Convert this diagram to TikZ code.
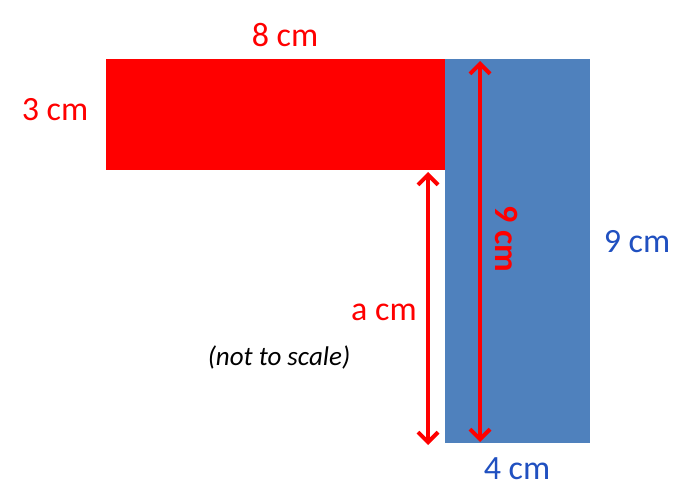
\documentclass[tikz,border=0pt]{standalone}
\usepackage{fontspec}
\setmainfont{Carlito}
\usetikzlibrary{arrows.meta}
\definecolor{boxblue}{RGB}{79,129,189}
\definecolor{txtblue}{RGB}{32,80,192}
\definecolor{myred}{RGB}{255,0,0}
\begin{document}
\begin{tikzpicture}[x=1pt,y=-1pt,
  lbl/.style={font=\fontsize{34}{38}\selectfont, inner sep=0pt},
  dim/.style={myred, line width=4pt, {Straight Barb[length=10pt,width=20pt,line width=4pt]}-{Straight Barb[length=10pt,width=20pt,line width=4pt]}}]
\useasboundingbox (0,0) rectangle (694,500);
\fill[myred] (106,59) rectangle (445,170);
\node[inner sep=0pt, minimum width=339pt, minimum height=111pt] (red) at (275.5,114.5) {};
\fill[boxblue] (445,59) rectangle (590,443);
\node[inner sep=0pt, minimum width=145pt, minimum height=384pt] (blue) at (517.5,251) {};
\coordinate (a1) at (428,172);
\coordinate (a2) at (428,445);
\coordinate (b1) at (480,61);
\coordinate (b2) at (480,442);
\draw[dim] (a1) -- (a2);
\draw[dim] (b1) -- (b2);
\node[lbl, myred] (l8) at (285,35) {8 cm};
\node[lbl, myred] (l3) at (55,110) {3 cm};
\node[lbl, txtblue] (r9) at (637,242) {9 cm};
\node[lbl, txtblue] (b4) at (517,469) {4 cm};
\node[lbl, myred] (ac) at (384,312) {a cm};
\node[lbl, myred, font=\fontsize{34}{38}\selectfont\bfseries, rotate=-90] (m9) at (507,239) {9 cm};
\node[inner sep=0pt, font=\fontsize{27}{30}\selectfont\itshape] (nts) at (279,357) {(not to scale)};
\end{tikzpicture}
\end{document}
